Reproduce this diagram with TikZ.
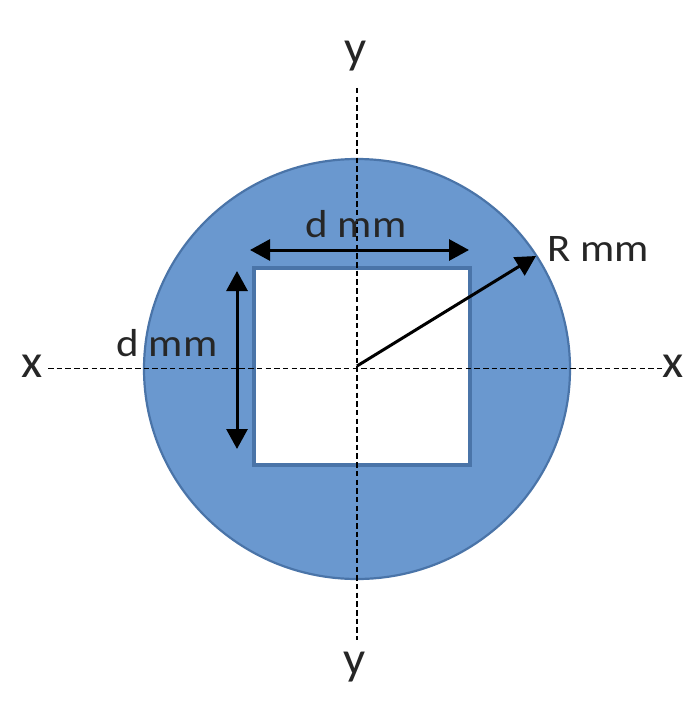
\documentclass[tikz,border=0pt]{standalone}
\usepackage{fontspec}
\setmainfont{Carlito}
\usetikzlibrary{arrows.meta}
\definecolor{fillblue}{HTML}{6A98CF}
\definecolor{edgeblue}{HTML}{4A74A8}
\tikzset{
 lbl/.style={inner sep=0pt,xscale=1.1,font=\fontsize{39}{41}\selectfont,text=black!85},
 axislbl/.style={inner sep=0pt,xscale=1.04,font=\fontsize{47}{49}\selectfont,text=black!85},
 axis/.style={dash pattern=on 5.5pt off 3.2pt,line width=1.1pt,black},
 dim/.style={line width=3pt,black,{Triangle[length=20pt,width=21pt]}-{Triangle[length=20pt,width=21pt]}},
 rad/.style={line width=3pt,black,-{Triangle[length=20pt,width=21pt]}}
}
\begin{document}
\begin{tikzpicture}[x=1pt,y=-1pt]
\useasboundingbox (0,0) rectangle (698,706);
\fill[white] (0,0) rectangle (698,706);
\coordinate (c) at (357,369);
\coordinate (rs) at (357,366);
\fill[fillblue,draw=edgeblue,line width=2.2pt] (c) ellipse [x radius=213,y radius=210];
\node[draw=edgeblue,fill=white,line width=4pt,minimum width=216pt,minimum height=197pt,inner sep=0pt] (sq) at (362,366.5) {};
\coordinate (xl) at (48,368.5); \coordinate (xr) at (662,368.5);
\coordinate (yt) at (357,88); \coordinate (yb) at (357,640);
\draw[axis] (xl) -- (xr);
\draw[axis] (yt) -- (yb);
\coordinate (h1) at (250,250); \coordinate (h2) at (469,250);
\coordinate (v1) at (237,271); \coordinate (v2) at (237,449);
\coordinate (r) at (536,256);
\draw[dim] (h1) -- (h2);
\draw[dim] (v1) -- (v2);
\draw[rad] (rs) -- (r);
\node[lbl] (dh) at (356,224) {d mm};
\node[lbl] (dv) at (167,343) {d mm};
\node[lbl] (rl) at (598,249) {R mm};
\node[axislbl] (yT) at (356,56) {y};
\node[axislbl] (yB) at (355,667) {y};
\node[axislbl] (xL) at (32,366) {x};
\node[axislbl] (xR) at (673,366) {x};
\end{tikzpicture}
\end{document}
